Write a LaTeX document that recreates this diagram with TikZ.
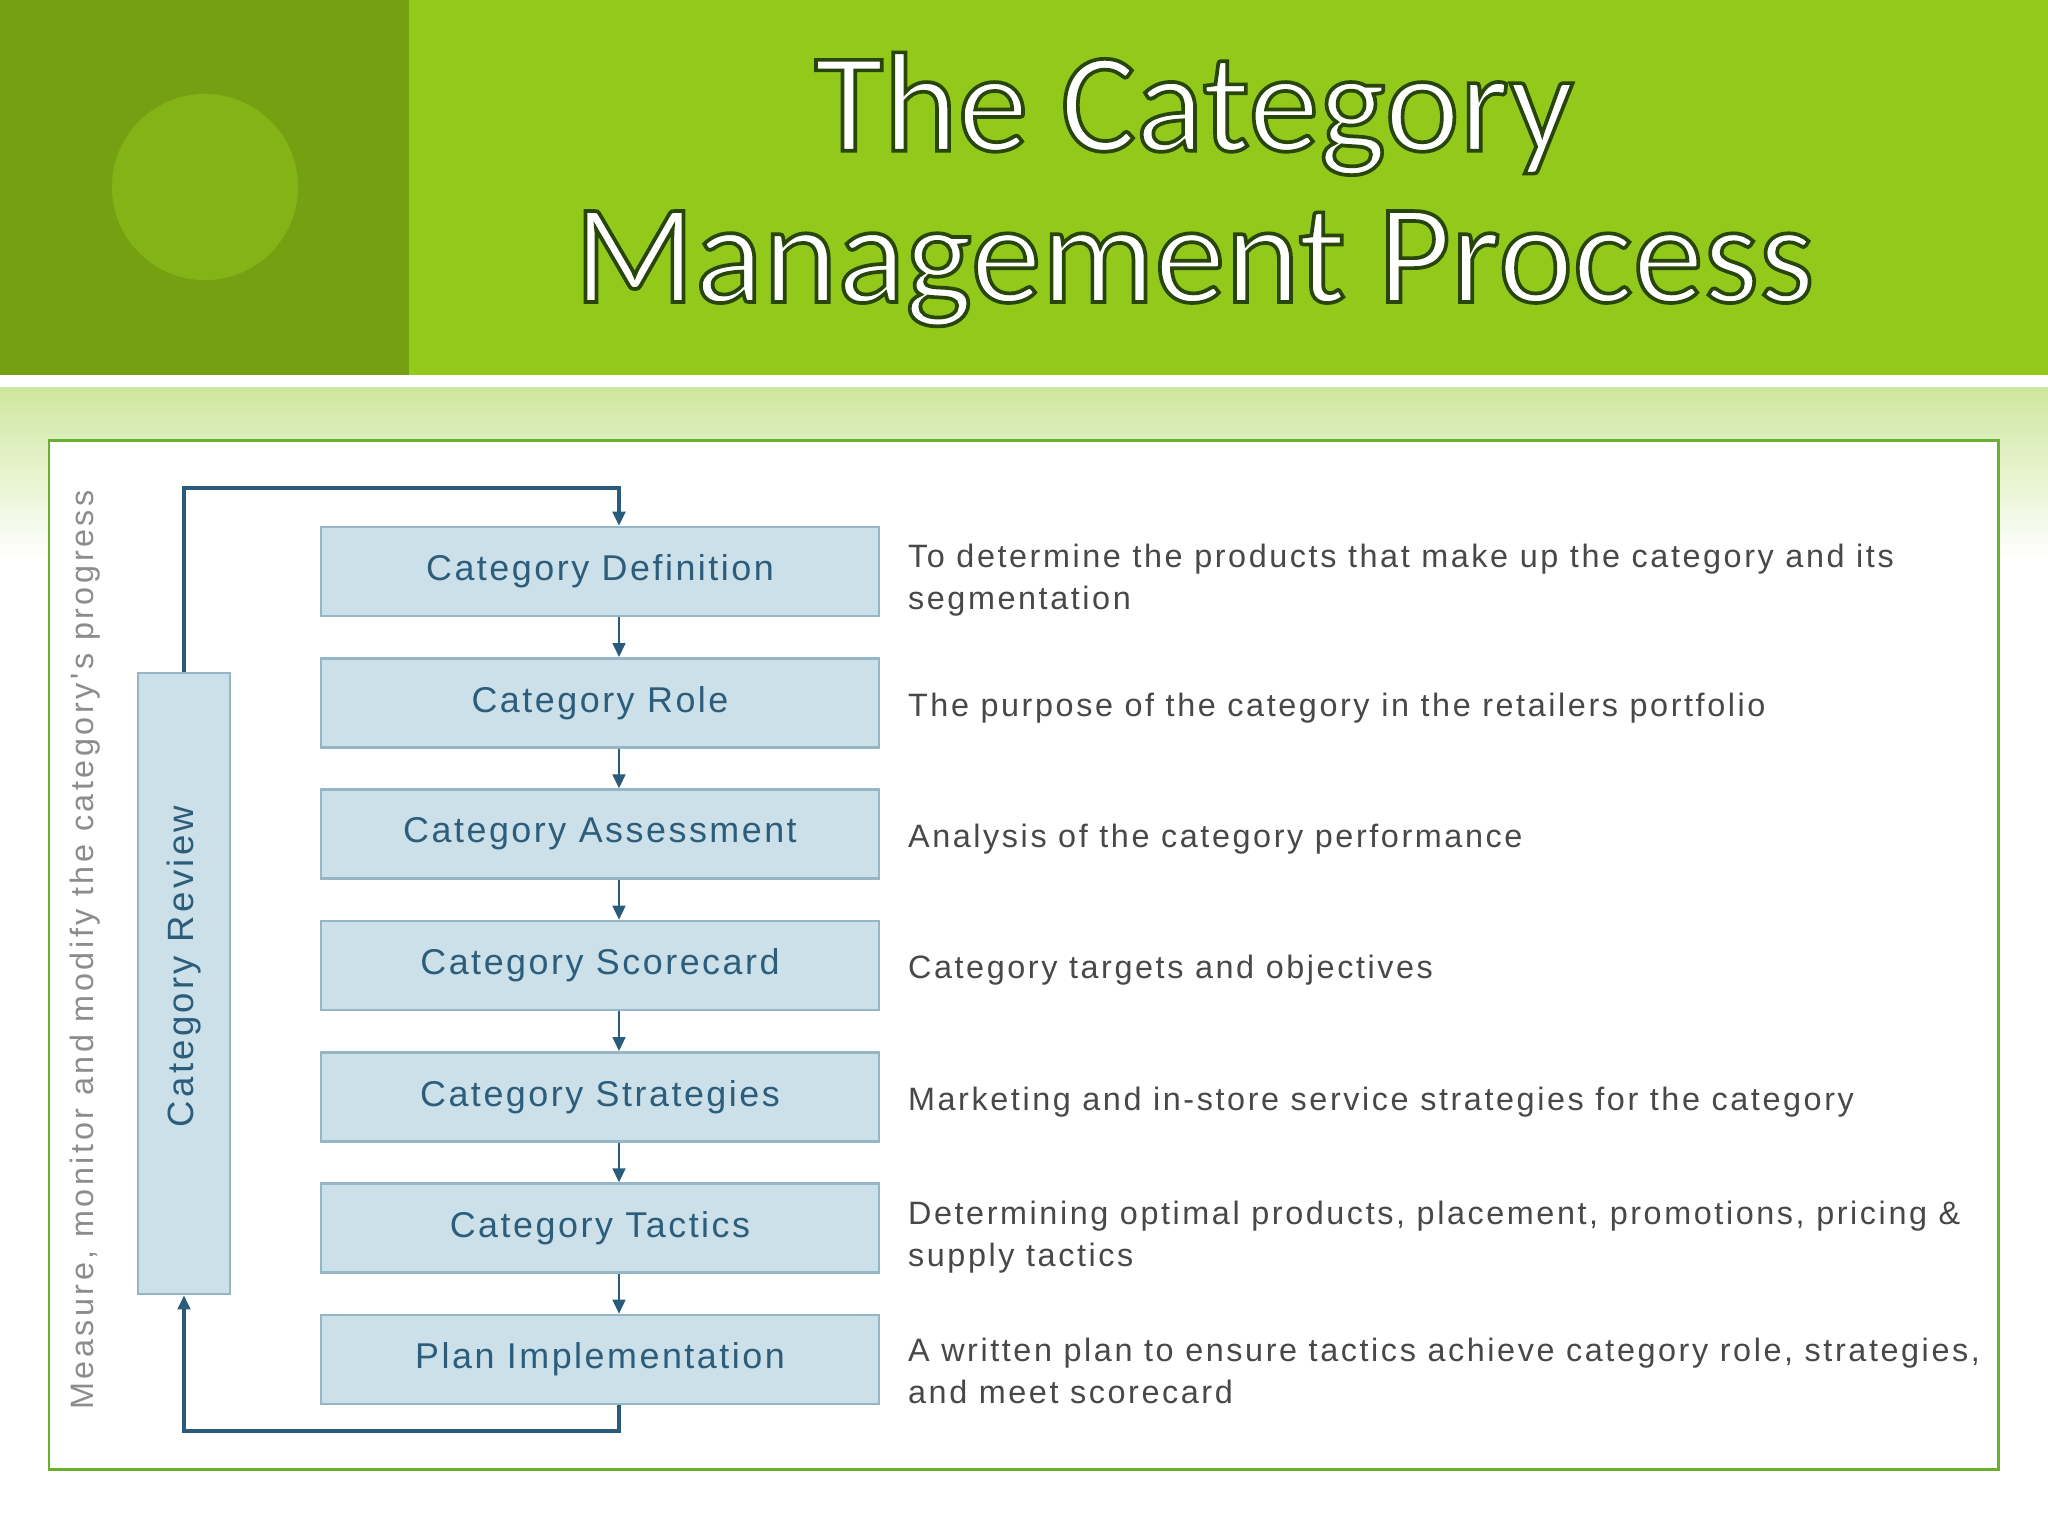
\documentclass[tikz,border=0pt]{standalone}
\usepackage{fontspec}
\usepackage{xcolor}
\usepackage{tikz}
\usetikzlibrary{arrows.meta,positioning}
\setmainfont{Liberation Sans}
\newfontfamily\titlefont{Carlito}
\newfontfamily\stagefont[LetterSpace=7]{Liberation Sans}
\newfontfamily\reviewfont[LetterSpace=9]{Liberation Sans}
\newfontfamily\descfont[LetterSpace=8]{Liberation Sans}
\newfontfamily\notefont[LetterSpace=11]{Liberation Sans}
\definecolor{headdark}{RGB}{117, 160, 18}
\definecolor{headlight}{RGB}{147, 201, 26}
\definecolor{headcircle}{RGB}{132, 179, 24}
\definecolor{titleedge}{RGB}{40, 70, 10}
\definecolor{bandgreen}{RGB}{206, 231, 158}
\definecolor{panelgreen}{RGB}{106, 176, 48}
\definecolor{stagefill}{RGB}{204, 224, 234}
\definecolor{stageedge}{RGB}{150, 182, 198}
\definecolor{stagetext}{RGB}{44, 94, 124}
\definecolor{loopblue}{RGB}{42, 91, 122}
\definecolor{desctext}{RGB}{72, 72, 72}
\definecolor{notegray}{RGB}{140, 140, 140}
\newcommand\outlined[1]{\special{pdf:literal direct 2 Tr 1.05 w 0.157 0.275 0.039 RG}#1\special{pdf:literal direct 0 Tr}}

\begin{document}
\begin{tikzpicture}[
    x=0.01cm, y=-0.01cm,
    title/.style={
      anchor=base,
      align=center,
      text=white,
      inner sep=0pt,
      font=\titlefont\fontsize{40.3}{43}\selectfont
    },
    stage/.style={
      rectangle,
      draw=stageedge,
      line width=0.7pt,
      fill=stagefill,
      text=stagetext,
      minimum width=5.58cm,
      minimum height=0.89cm,
      inner sep=0pt,
      font=\stagefont\fontsize{10.2}{12}\selectfont
    },
    review/.style={stage, rotate=90, minimum width=6.21cm, minimum height=0.92cm,
      font=\reviewfont\fontsize{10.4}{12}\selectfont},
    desc/.style={anchor=west, align=left, text=desctext, inner sep=0pt,
      font=\descfont\fontsize{9.2}{11.95}\selectfont},
    note/.style={rotate=90, text=notegray, inner sep=0pt,
      font=\notefont\fontsize{9.2}{11}\selectfont},
    flow/.style={-{Triangle[length=4pt,width=3.6pt]}, line width=0.75pt, draw=loopblue},
    loopline/.style={flow, line width=0.9pt}
  ]
    \useasboundingbox (0,0) rectangle (2048,1536);
    \fill[white] (0,0) rectangle (2048,1536);
    \fill[headlight] (0,0) rectangle (2048,375);
    \fill[headdark] (0,0) rectangle (409,375);
    \fill[headcircle] (205,187) circle[radius=0.93cm];
    \shade[top color=bandgreen, bottom color=white] (0,387) rectangle (2048,560);
    \filldraw[fill=white, draw=panelgreen, line width=0.85pt] (49,440) rectangle (1998,1469);

    \node[title] (ttl) at (1194,302) {\outlined{The Category}\\\outlined{Management Process}};

    \node[stage] (def) at (600,571.5) {Category Definition};
    \node[stage, below=0.398cm of def] (role) {Category Role};
    \node[stage, below=0.398cm of role] (assess) {Category Assessment};
    \node[stage, below=0.398cm of assess] (score) {Category Scorecard};
    \node[stage, below=0.398cm of score] (strat) {Category Strategies};
    \node[stage, below=0.398cm of strat] (tact) {Category Tactics};
    \node[stage, below=0.398cm of tact] (plan) {Plan Implementation};

    \node[desc] (ddef) at ([xshift=0.27cm, yshift=-0.09cm]def.east) {To determine the products that make up the category and its\\segmentation};
    \node[desc] (drole) at ([xshift=0.27cm, yshift=-0.05cm]role.east) {The purpose of the category in the retailers portfolio};
    \node[desc] (dassess) at ([xshift=0.27cm, yshift=-0.05cm]assess.east) {Analysis of the category performance};
    \node[desc] (dscore) at ([xshift=0.27cm, yshift=-0.05cm]score.east) {Category targets and objectives};
    \node[desc] (dstrat) at ([xshift=0.27cm, yshift=-0.05cm]strat.east) {Marketing and in-store service strategies for the category};
    \node[desc] (dtact) at ([xshift=0.27cm, yshift=-0.09cm]tact.east) {Determining optimal products, placement, promotions, pricing \&\\supply tactics};
    \node[desc] (dplan) at ([xshift=0.27cm, yshift=-0.11cm]plan.east) {A written plan to ensure tactics achieve category role, strategies,\\and meet scorecard};

    \node[review] (rev) at (184,983.5) {\hspace*{0.34cm}Category Review};
    \node[note] (measure) at (85,950) {Measure, monitor and modify the category's progress};

    \coordinate (spine) at (619,0);
    \coordinate (looptop) at (0,488);
    \coordinate (loopbot) at (0,1431);

    \foreach \u/\v in {def/role,role/assess,assess/score,score/strat,strat/tact,tact/plan}
      \draw[flow] (\u.south -| spine) -- (\v.north -| spine);

    \draw[loopline] (rev.east) |- (looptop -| spine) -- (def.north -| spine);
    \draw[loopline] (plan.south -| spine) |- (loopbot -| rev.west) -- (rev.west);
  \end{tikzpicture}
\end{document}
